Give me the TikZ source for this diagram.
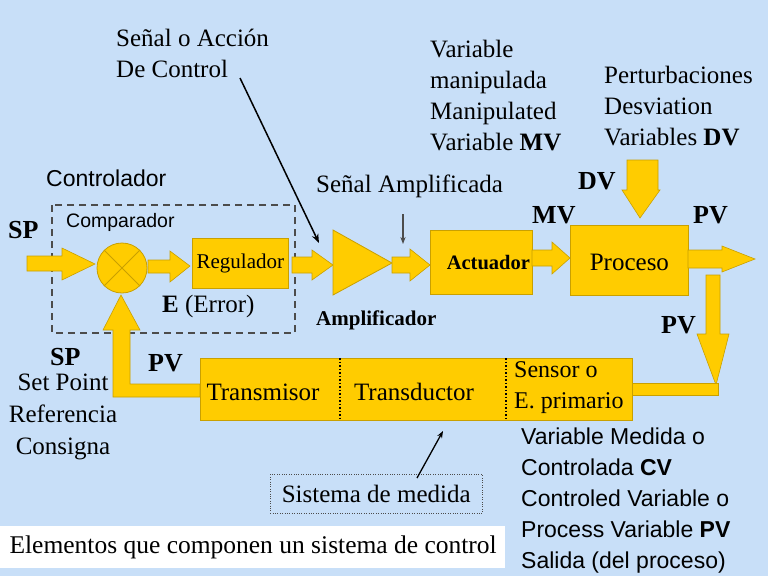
\documentclass[tikz,border=0pt]{standalone}
\usepackage{fontspec}
\setmainfont{Liberation Serif}
\newfontfamily\arial{Liberation Sans}
\usetikzlibrary{arrows.meta}
\definecolor{bg}{HTML}{C8DFF8}
\definecolor{yel}{HTML}{FFCC00}
\definecolor{yed}{HTML}{C9A000}
\tikzset{
  blk/.style={fill=yel,draw=yed,line width=0.8pt},
  fat/.style={fill=yel,draw=yed,line width=0.6pt},
  txt/.style={inner sep=0pt,font=\fontsize{25}{31}\selectfont,align=left,anchor=north west},
  stxt/.style={inner sep=0pt,font=\arial\fontsize{23}{31}\selectfont,align=left,anchor=north west},
  bt/.style={inner sep=0pt,font=\bfseries\fontsize{26}{30}\selectfont},
}
\begin{document}
\begin{tikzpicture}[x=1pt,y=-1pt]
\fill[bg] (0,0) rectangle (768,576);
\useasboundingbox (0,0) rectangle (768,576);
% dashed controller box
\draw[dashed,draw=black!70,line width=1.2pt,dash pattern=on 7pt off 5pt] (52,205) rectangle (295,333);
% SP arrow
\draw[fat] (27,256)--(62,256)--(62,248)--(95,264)--(62,280)--(62,271)--(27,271)--cycle;
% comparator
\node[blk,circle,minimum size=50pt,inner sep=0pt] (cmp) at (122,268) {};
\draw[yed,line width=0.8pt] (cmp.north west)--(cmp.south east) (cmp.north east)--(cmp.south west);
% arrow to regulador
\draw[fat] (148,260)--(170,260)--(170,251)--(190,266)--(170,282)--(170,273)--(148,273)--cycle;
\node[blk,minimum width=96pt,minimum height=50pt,anchor=north west,inner sep=0pt] (reg) at (192,238) {};
\node[font=\fontsize{21}{24}\selectfont] at (reg.center) {Regulador};
% arrow to amp
\draw[fat] (292,257)--(312,257)--(312,250)--(333,265)--(312,280)--(312,273)--(292,273)--cycle;
\draw[blk] (333,230)--(392,263)--(333,295)--cycle;
\draw[fat] (392,257)--(410,257)--(410,249)--(430,265)--(410,281)--(410,273)--(392,273)--cycle;
\node[blk,minimum width=102pt,minimum height=64pt,anchor=north west,inner sep=0pt] (act) at (430,230) {};
\node[font=\bfseries\fontsize{20.5}{24}\selectfont] at ([xshift=7pt]act.center) {Actuador};
\draw[fat] (532,250)--(552,250)--(552,242)--(570,258)--(552,274)--(552,266)--(532,266)--cycle;
\node[blk,minimum width=118pt,minimum height=70pt,anchor=north west,inner sep=0pt] (proc) at (570,225) {};
\node[font=\fontsize{25}{30}\selectfont] at ([yshift=-2pt]proc.center) {Proceso};
% output arrow
\draw[fat] (688,250)--(722,250)--(722,246)--(755,259)--(722,272)--(722,268)--(688,268)--cycle;
% DV arrow
\draw[fat] (627,160)--(658,160)--(658,190)--(660,190)--(640,218)--(622,190)--(627,190)--cycle;
% PV down arrow
\draw[fat] (706,275)--(720,275)--(720,334)--(729,334)--(716,385)--(697,334)--(706,334)--cycle;
% bottom box
\draw[fat] (632,383)--(718,383)--(718,395)--(632,395)--cycle;
\node[blk,minimum width=432pt,minimum height=62pt,anchor=north west,inner sep=0pt] (med) at (200,358) {};
\draw[dotted,line width=1.5pt] (340,358)--(340,420) (506,358)--(506,420);
% feedback
\draw[fat] (200,384)--(130,384)--(130,330)--(140,330)--(121,295)--(103,330)--(113,330)--(113,397)--(200,397)--cycle;
% texts in bottom box
\node[font=\fontsize{25}{30}\selectfont] at (263,392) {Transmisor};
\node[font=\fontsize{25}{30}\selectfont] at (414,392) {Transductor};
\node[txt,font=\fontsize{24}{31}\selectfont] at (514,361) {Sensor o\\E. primario};
% labels
\node[bt,anchor=north west] at (8,221) {SP};
\node[stxt,font=\arial\fontsize{19.5}{22}\selectfont] at (66,213) {Comparador};
\node[stxt] at (46,170) {Controlador};
\node[txt,anchor=north west] at (162,295) {\textbf{E} (Error)};
\node[bt,anchor=north west,font=\bfseries\fontsize{21}{24}\selectfont] at (316,311) {Amplificador};
\node[txt] at (116,29) {Señal o Acción\\De Control};
\node[txt] at (316,175) {Señal Amplificada};
\node[txt] at (430,40) {Variable\\manipulada\\Manipulated\\Variable \textbf{MV}};
\node[txt] at (604,66) {Perturbaciones\\Desviation\\Variables \textbf{DV}};
\node[bt,anchor=north west] at (578,172) {DV};
\node[bt,anchor=north west] at (532,206) {MV};
\node[bt,anchor=north west] at (693,206) {PV};
\node[bt,anchor=north west] at (661,316) {PV};
\node[bt,anchor=north west] at (148,354) {PV};
\node[bt,anchor=north west] at (50,348) {SP};
\node[txt,align=center,anchor=north,font=\fontsize{25}{32}\selectfont] at (63,374) {Set Point\\Referencia\\Consigna};
\node[stxt] at (521,428) {Variable Medida o\\Controlada \textbf{CV}\\Controled Variable o\\Process Variable \textbf{PV}\\Salida (del proceso)};
\node[draw=black!70,dotted,minimum width=212pt,minimum height=39pt,anchor=north west,inner sep=0pt] (sm) at (270,474) {};
\node[font=\fontsize{25}{30}\selectfont] at (sm.center) {Sistema de medida};
\node[fill=white,minimum width=505pt,minimum height=42pt,anchor=north west,inner sep=0pt] (cap) at (0,526) {};
\node[font=\fontsize{25.5}{30}\selectfont,anchor=west] at (6,547) {Elementos que componen un sistema de control};
% annotation arrows
\coordinate (a1) at (240,78);
\coordinate (a2) at (319,243);
\draw[-{Stealth[length=9pt]},line width=1.5pt] (a1)--(a2);
\coordinate (g1) at (403,214);
\coordinate (g2) at (403,244);
\draw[-{Stealth[length=7pt]},line width=1.3pt,black!70] (g1)--(g2);
\coordinate (s1) at (443,431);
\draw[-{Stealth[length=7pt]},line width=1.3pt] (417,478)--(s1);
\end{tikzpicture}
\end{document}
